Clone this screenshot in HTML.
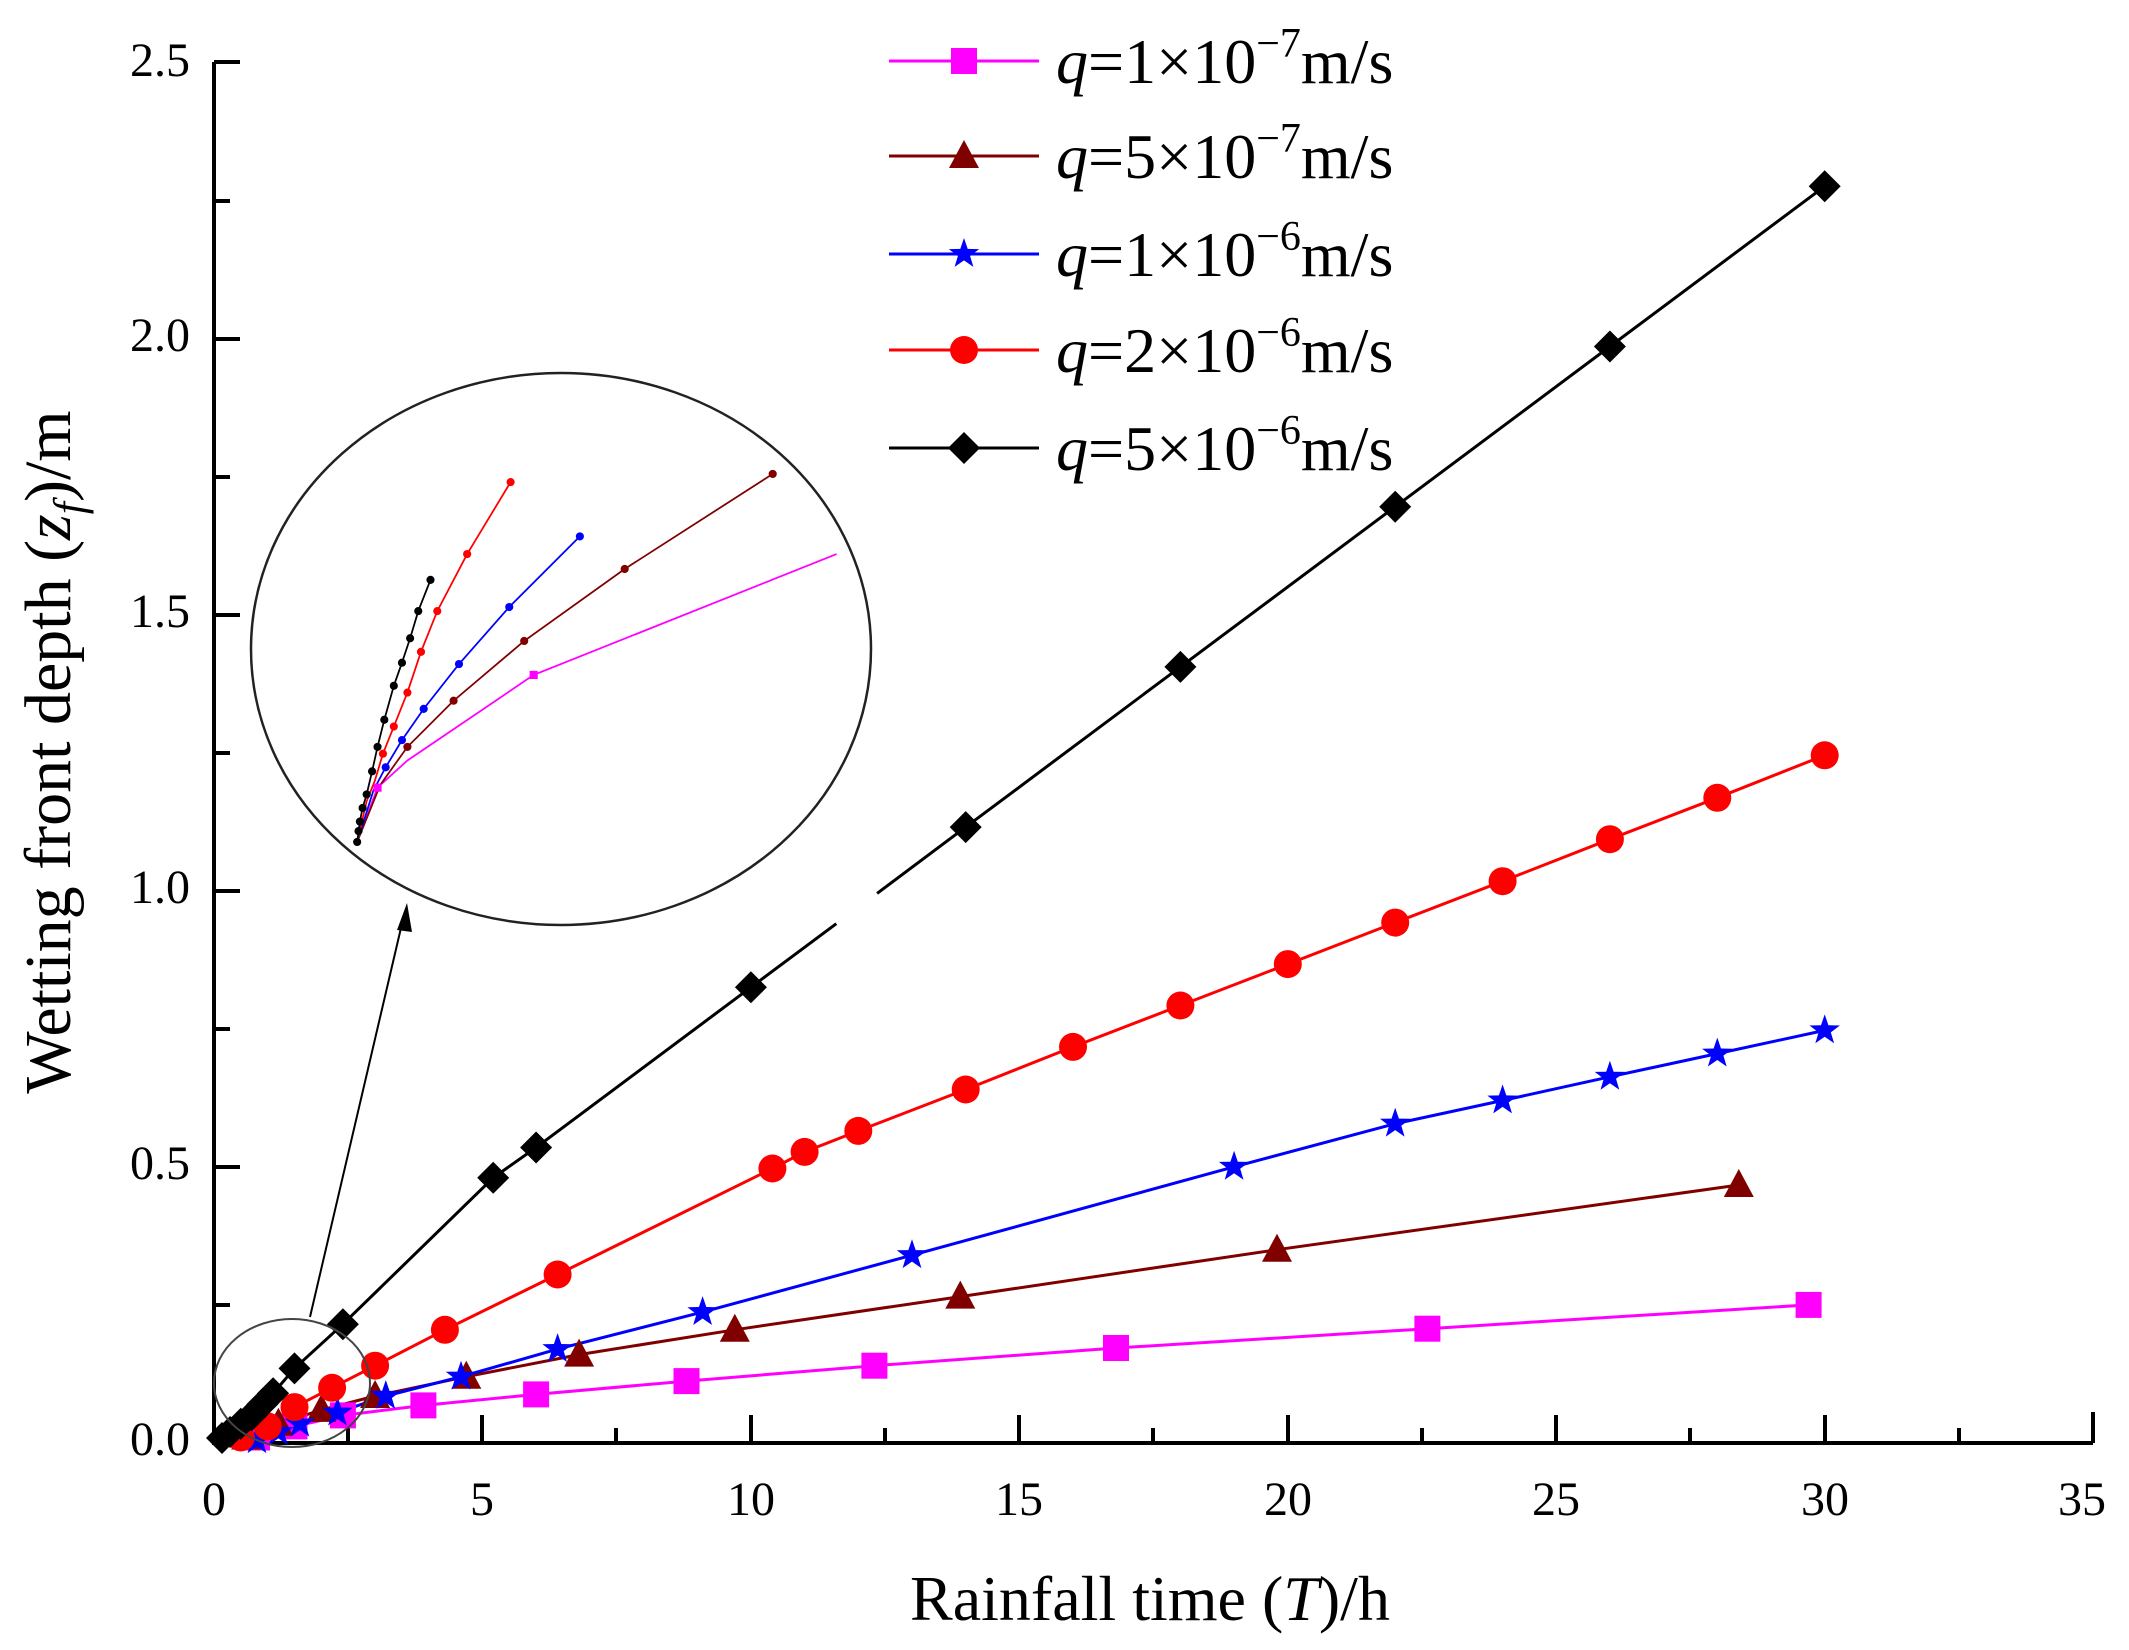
<!DOCTYPE html>
<html><head><meta charset="utf-8"><style>
html,body{margin:0;padding:0;background:#fff}
svg{display:block}
text{font-family:"Liberation Serif",serif;fill:#000}
</style></head><body>
<svg width="2129" height="1650" viewBox="0 0 2129 1650" xmlns="http://www.w3.org/2000/svg">
<defs>
<rect id="sq" x="-13" y="-13" width="26" height="26" fill="#ff00ff"/>
<polygon id="tri" points="0,-16 15,12 -15,12" fill="#800000"/>
<polygon id="star" points="0,-16 3.7,-5.1 15.2,-4.9 6.1,2 9.4,12.9 0,6.4 -9.4,12.9 -6.1,2 -15.2,-4.9 -3.7,-5.1" fill="#0000ff"/>
<circle id="cir" r="14" fill="#ff0000"/>
<polygon id="dia" points="0,-16 16,0 0,16 -16,0" fill="#000"/>
</defs>

<g stroke="#000" stroke-width="4" fill="none">
<path d="M214,62 L214,1443 L2093,1443"/>
<path d="M214,62 L240,62"/>
<path d="M214,1167 L240,1167 M214,891 L240,891 M214,615 L240,615 M214,339 L240,339"/>
<path d="M214,1305 L230,1305 M214,1029 L230,1029 M214,753 L230,753 M214,477 L230,477 M214,201 L230,201"/>
<path d="M482,1443 L482,1415 M751,1443 L751,1415 M1019,1443 L1019,1415 M1288,1443 L1288,1415 M1556,1443 L1556,1415 M1825,1443 L1825,1415 M2093,1443 L2093,1412"/>
<path d="M348,1443 L348,1428 M616,1443 L616,1428 M885,1443 L885,1428 M1153,1443 L1153,1428 M1422,1443 L1422,1428 M1690,1443 L1690,1428 M1959,1443 L1959,1428"/>
</g>

<g font-size="48" text-anchor="end">
<text x="190" y="1455">0.0</text>
<text x="190" y="1179">0.5</text>
<text x="190" y="903">1.0</text>
<text x="190" y="627">1.5</text>
<text x="190" y="351">2.0</text>
<text x="190" y="76">2.5</text>
</g>
<g font-size="48" text-anchor="middle">
<text x="214" y="1515">0</text>
<text x="482" y="1515">5</text>
<text x="751" y="1515">10</text>
<text x="1019" y="1515">15</text>
<text x="1288" y="1515">20</text>
<text x="1556" y="1515">25</text>
<text x="1825" y="1515">30</text>
<text x="2082" y="1515">35</text>
</g>
<text x="1150" y="1620" font-size="64" text-anchor="middle">Rainfall time (<tspan font-style="italic">T</tspan>)/h</text>
<text transform="translate(70,752) rotate(-90)" font-size="66" text-anchor="middle">Wetting front depth (<tspan font-style="italic">z</tspan><tspan font-style="italic" font-size="44" dy="14">f</tspan><tspan dy="-14">)/m</tspan></text>

<g fill="none" stroke-width="3">
<polyline stroke="#ff00ff" points="214,1443 257,1437.5 294.5,1426.4 342.9,1415.4 423.4,1405.4 536.1,1394.4 686.5,1381.1 874.4,1365.7 1116,1348 1427.4,1328.7 1808.6,1304.9"/>
<polyline stroke="#800000" points="214,1443 246.2,1437.5 278.4,1423.7 321.4,1409.9 375.1,1396 466.3,1376.7 579.1,1354.6 734.8,1329.8 960.3,1296.6 1277,1249.7 1738.8,1185"/>
<polyline stroke="#0000ff" points="214,1443 257,1440.2 278.4,1432 299.9,1423.7 337.5,1412.6 385.8,1396 461,1376.7 557.6,1349.1 702.6,1312.1 912,1255.2 1234.1,1166.8 1395.2,1123.7 1502.6,1100.5 1609.9,1076.8 1717.3,1053.6 1824.7,1030.4"/>
<polyline stroke="#ff0000" points="214,1443 240.8,1437.5 267.7,1426.4 294.5,1407.1 332.1,1387.8 375.1,1365.7 444.9,1329.8 557.6,1274.5 772.4,1168.5 804.6,1151.9 858.3,1130.9 965.7,1089.5 1073,1046.9 1180.4,1005.5 1287.8,964.1 1395.2,922.6 1502.6,881.2 1609.9,839.2 1717.3,797.8 1824.7,755.3"/>
<polyline stroke="#000" points="214,1443 230.1,1432 240.8,1423.7 251.6,1415.4 262.3,1404.3 273.1,1393.3 294.5,1368.4 342.9,1324.2 493.2,1177.8 536.1,1147.5 750.9,987.3 836.3,923.7"/>
<polyline stroke="#000" points="877.1,893.4 965.7,827.1 1180.4,666.9 1395.2,506.7 1609.9,346.5 1824.7,186.3"/>
</g>

<g>
<use href="#sq" x="257" y="1437.5"/><use href="#sq" x="294.5" y="1426.4"/><use href="#sq" x="342.9" y="1415.4"/><use href="#sq" x="423.4" y="1405.4"/><use href="#sq" x="536.1" y="1394.4"/><use href="#sq" x="686.5" y="1381.1"/><use href="#sq" x="874.4" y="1365.7"/><use href="#sq" x="1116" y="1348"/><use href="#sq" x="1427.4" y="1328.7"/><use href="#sq" x="1808.6" y="1304.9"/>
<use href="#tri" x="246.2" y="1437.5"/><use href="#tri" x="278.4" y="1423.7"/><use href="#tri" x="321.4" y="1409.9"/><use href="#tri" x="375.1" y="1396"/><use href="#tri" x="466.3" y="1376.7"/><use href="#tri" x="579.1" y="1354.6"/><use href="#tri" x="734.8" y="1329.8"/><use href="#tri" x="960.3" y="1296.6"/><use href="#tri" x="1277" y="1249.7"/><use href="#tri" x="1738.8" y="1185"/>
<use href="#star" x="257" y="1440.2"/><use href="#star" x="278.4" y="1432"/><use href="#star" x="299.9" y="1423.7"/><use href="#star" x="337.5" y="1412.6"/><use href="#star" x="385.8" y="1396"/><use href="#star" x="461" y="1376.7"/><use href="#star" x="557.6" y="1349.1"/><use href="#star" x="702.6" y="1312.1"/><use href="#star" x="912" y="1255.2"/><use href="#star" x="1234.1" y="1166.8"/><use href="#star" x="1395.2" y="1123.7"/><use href="#star" x="1502.6" y="1100.5"/><use href="#star" x="1609.9" y="1076.8"/><use href="#star" x="1717.3" y="1053.6"/><use href="#star" x="1824.7" y="1030.4"/>
<use href="#cir" x="240.8" y="1437.5"/><use href="#cir" x="267.7" y="1426.4"/><use href="#cir" x="294.5" y="1407.1"/><use href="#cir" x="332.1" y="1387.8"/><use href="#cir" x="375.1" y="1365.7"/><use href="#cir" x="444.9" y="1329.8"/><use href="#cir" x="557.6" y="1274.5"/><use href="#cir" x="772.4" y="1168.5"/><use href="#cir" x="804.6" y="1151.9"/><use href="#cir" x="858.3" y="1130.9"/><use href="#cir" x="965.7" y="1089.5"/><use href="#cir" x="1073" y="1046.9"/><use href="#cir" x="1180.4" y="1005.5"/><use href="#cir" x="1287.8" y="964.1"/><use href="#cir" x="1395.2" y="922.6"/><use href="#cir" x="1502.6" y="881.2"/><use href="#cir" x="1609.9" y="839.2"/><use href="#cir" x="1717.3" y="797.8"/><use href="#cir" x="1824.7" y="755.3"/>
<use href="#dia" x="222" y="1438"/><use href="#dia" x="230.1" y="1432"/><use href="#dia" x="240.8" y="1423.7"/><use href="#dia" x="251.6" y="1415.4"/><use href="#dia" x="262.3" y="1404.3"/><use href="#dia" x="273.1" y="1393.3"/><use href="#dia" x="294.5" y="1368.4"/><use href="#dia" x="342.9" y="1324.2"/><use href="#dia" x="493.2" y="1177.8"/><use href="#dia" x="536.1" y="1147.5"/><use href="#dia" x="750.9" y="987.3"/><use href="#dia" x="965.7" y="827.1"/><use href="#dia" x="1180.4" y="666.9"/><use href="#dia" x="1395.2" y="506.7"/><use href="#dia" x="1609.9" y="346.5"/><use href="#dia" x="1824.7" y="186.3"/>
</g>

<ellipse cx="292" cy="1383" rx="78" ry="64" fill="none" stroke="#444" stroke-width="2"/>
<line x1="310" y1="1317" x2="404" y2="915" stroke="#000" stroke-width="2"/>
<polygon points="407,903 397,930 412,932" fill="#000"/>

<ellipse cx="561" cy="649" rx="310" ry="276" fill="#fff" stroke="#222" stroke-width="2.5"/>
<g transform="scale(1.358)" fill="none" stroke-width="1.3">
<polyline stroke="#ff00ff" points="263,620 278,580 300,560 393,497 616,408"/>
<polyline stroke="#800000" points="263,620 280,578 300,550 334,516 386,472 460,419 569,349"/>
<polyline stroke="#0000ff" points="263,620 275,582 284,565 296,545 312,522 338,489 375,447 427,395"/>
<polyline stroke="#ff0000" points="263,620 270,590 276,575 282,555 290,535 300,510 310,480 322,450 344,408 376,355"/>
<polyline stroke="#000" points="263,620 265,605 267,595 270,585 274,568 278,550 283,530 290,505 296,488 302,470 308,450 317,427"/>
<g stroke="none">
<rect x="390" y="494" width="6" height="6" fill="#ff00ff"/><rect x="275" y="577" width="6" height="6" fill="#ff00ff"/>
<circle cx="386" cy="472" r="3" fill="#800000"/><circle cx="460" cy="419" r="3" fill="#800000"/><circle cx="569" cy="349" r="3" fill="#800000"/><circle cx="334" cy="516" r="3" fill="#800000"/><circle cx="300" cy="550" r="3" fill="#800000"/>
<circle cx="375" cy="447" r="3" fill="#00f"/><circle cx="427" cy="395" r="3" fill="#00f"/><circle cx="338" cy="489" r="3" fill="#00f"/><circle cx="312" cy="522" r="3" fill="#00f"/><circle cx="296" cy="545" r="3" fill="#00f"/><circle cx="284" cy="565" r="3" fill="#00f"/>
<circle cx="376" cy="355" r="3" fill="#f00"/><circle cx="344" cy="408" r="3" fill="#f00"/><circle cx="322" cy="450" r="3" fill="#f00"/><circle cx="310" cy="480" r="3" fill="#f00"/><circle cx="300" cy="510" r="3" fill="#f00"/><circle cx="290" cy="535" r="3" fill="#f00"/><circle cx="282" cy="555" r="3" fill="#f00"/>
<circle cx="317" cy="427" r="3" fill="#000"/><circle cx="308" cy="450" r="3" fill="#000"/><circle cx="302" cy="470" r="3" fill="#000"/><circle cx="296" cy="488" r="3" fill="#000"/><circle cx="290" cy="505" r="3" fill="#000"/><circle cx="283" cy="530" r="3" fill="#000"/><circle cx="278" cy="550" r="3" fill="#000"/><circle cx="274" cy="568" r="3" fill="#000"/><circle cx="270" cy="585" r="3" fill="#000"/><circle cx="267" cy="595" r="3" fill="#000"/><circle cx="265" cy="605" r="3" fill="#000"/><circle cx="264" cy="612" r="3" fill="#000"/><circle cx="263" cy="620" r="3" fill="#000"/>
</g>
</g>

<g stroke-width="3">
<line x1="889" y1="61" x2="1039" y2="61" stroke="#ff00ff"/><use href="#sq" x="964" y="61"/>
<line x1="889" y1="156" x2="1039" y2="156" stroke="#800000"/><use href="#tri" x="964" y="156"/>
<line x1="889" y1="254" x2="1039" y2="254" stroke="#0000ff"/><use href="#star" x="964" y="254"/>
<line x1="889" y1="350" x2="1039" y2="350" stroke="#ff0000"/><use href="#cir" x="964" y="350"/>
<line x1="889" y1="448" x2="1039" y2="448" stroke="#000"/><use href="#dia" x="964" y="448"/>
</g>
<g font-size="64">
<text x="1056" y="83"><tspan font-style="italic">q</tspan>=1×10<tspan font-size="42" dy="-26">−7</tspan><tspan dy="26">m/s</tspan></text>
<text x="1056" y="178"><tspan font-style="italic">q</tspan>=5×10<tspan font-size="42" dy="-26">−7</tspan><tspan dy="26">m/s</tspan></text>
<text x="1056" y="276"><tspan font-style="italic">q</tspan>=1×10<tspan font-size="42" dy="-26">−6</tspan><tspan dy="26">m/s</tspan></text>
<text x="1056" y="372"><tspan font-style="italic">q</tspan>=2×10<tspan font-size="42" dy="-26">−6</tspan><tspan dy="26">m/s</tspan></text>
<text x="1056" y="470"><tspan font-style="italic">q</tspan>=5×10<tspan font-size="42" dy="-26">−6</tspan><tspan dy="26">m/s</tspan></text>
</g>
</svg>
</body></html>
